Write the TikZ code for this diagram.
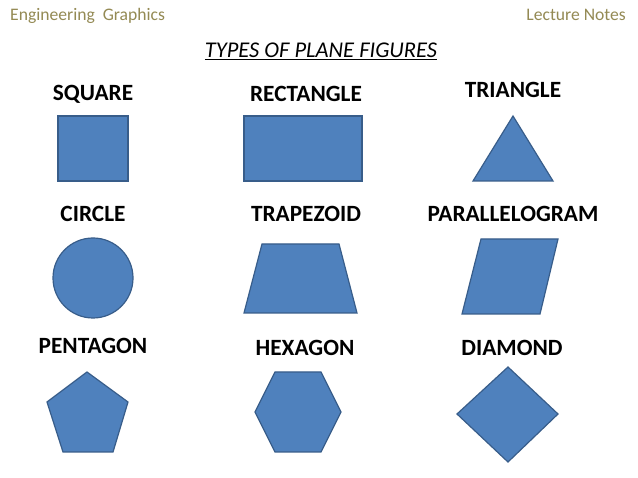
\documentclass[tikz,border=0pt]{standalone}
\usepackage{fontspec}
\setmainfont{Carlito}
\usepackage{xcolor}
\usetikzlibrary{positioning}
\definecolor{headergold}{RGB}{148, 138, 84}
\definecolor{shapeblue}{RGB}{79, 129, 189}
\definecolor{shapeborder}{RGB}{56, 93, 138}

\begin{document}
\begin{tikzpicture}[
    x=1pt, y=-1pt, % Work in pixels of the slide, y going down
    header/.style={ % Style for the running header texts
        font=\fontsize{17.6}{21}\selectfont,
        text=headergold,
        inner sep=0pt
    },
    figname/.style={ % Style for the name above each figure
        font=\fontsize{23.3}{28}\selectfont\bfseries,
        inner sep=0pt,
        anchor=base
    },
    % Style for the filled figures
    figure/.style={
        fill=shapeblue,
        draw=shapeborder,
        line width=1.2pt,
        line join=miter
    }
]

% Slide size
\useasboundingbox[fill=white] (0,0) rectangle (638,478);

% Header and title
\node[header, anchor=base west] (course) at (10,21) {Engineering\ \ Graphics};
\node[header, anchor=base east] (notes) at (626,21) {Lecture Notes};
\node[font=\fontsize{22.5}{27}\selectfont\itshape, inner sep=0pt, anchor=base] (title) at (321,58) {\underline{TYPES OF PLANE FIGURES}};

% First row
\node[figname] (square) at (93,101) {SQUARE};
\node[figname] (rectangle) at (306,102) {RECTANGLE};
\node[figname] (triangle) at (513,98) {TRIANGLE};
\draw[figure] (58,116) rectangle (128,181);
\draw[figure] (244,116) rectangle (362,181);
\draw[figure] (513,116) -- (553,181) -- (473,181) -- cycle;

% Second row
\node[figname] (circle) at (93,222) {CIRCLE};
\node[figname] (trapezoid) at (306,222) {TRAPEZOID};
\node[figname] (parallelogram) at (513,222) {PARALLELOGRAM};
\draw[figure] (93,278) circle[radius=40];
\draw[figure] (262,244) -- (339,244) -- (357,313) -- (244,313) -- cycle;
\draw[figure] (481,239) -- (558,239) -- (540,314) -- (462,314) -- cycle;

% Third row
\node[figname] (pentagon) at (93,354) {PENTAGON};
\node[figname] (hexagon) at (305,356) {HEXAGON};
\node[figname] (diamond) at (512,356) {DIAMOND};
\draw[figure] (87,372) -- (128,402) -- (113,452) -- (63,452) -- (47,402) -- cycle;
\draw[figure] (275,372) -- (321,372) -- (341,412) -- (321,452) -- (275,452) -- (255,412) -- cycle;
\draw[figure] (508,367) -- (558,414) -- (508,462) -- (457,414) -- cycle;

\end{tikzpicture}
\end{document}
